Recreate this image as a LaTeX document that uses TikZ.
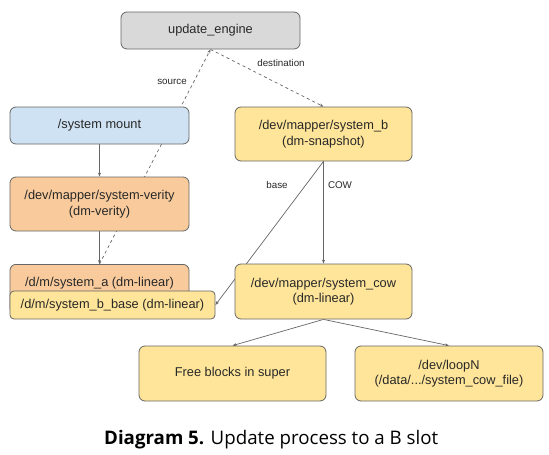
\documentclass[tikz,border=0pt]{standalone}
\usepackage{fontspec}
\setmainfont{Liberation Sans}
\newfontfamily\capfont{Open Sans}
\usetikzlibrary{arrows.meta, backgrounds}
\definecolor{edgegray}{RGB}{102, 102, 102}
\definecolor{txtgray}{RGB}{40, 40, 40}
\definecolor{engfill}{RGB}{217, 217, 217}
\definecolor{mntfill}{RGB}{207, 226, 243}
\definecolor{verfill}{RGB}{249, 203, 156}
\definecolor{snapfill}{RGB}{255, 229, 153}

\tikzset{
    devbox/.style={draw=edgegray, line width=0.8pt, rounded corners=6pt, inner sep=0pt,
        align=center, text=txtgray, font=\fontsize{12.8}{15.5}\selectfont},
    link/.style={draw=edgegray, line width=0.7pt, -{Stealth[length=4pt, width=3pt]}},
    linklbl/.style={font=\fontsize{9.8}{11}\selectfont, text=txtgray}
}

\begin{document}
\begin{tikzpicture}[x=1pt, y=-1pt]
        \useasboundingbox (0,0) rectangle (549,455);
        % boxes
        \node[devbox, fill=engfill, minimum width=179pt, minimum height=37pt] (engine) at (210.5,30.5) {update\_engine};
        \node[devbox, fill=mntfill, minimum width=179pt, minimum height=37pt] (mount) at (99.5,125.5) {/system mount};
        \node[devbox, fill=snapfill, minimum width=177pt, minimum height=54pt] (sysb) at (323.5,134) {/dev/mapper/system\_b\\(dm-snapshot)};
        \node[devbox, fill=verfill, minimum width=179pt, minimum height=54pt] (verity) at (99.5,204) {/dev/mapper/system-verity\\(dm-verity)};
        \node[devbox, fill=verfill, minimum width=179pt, anchor=north, text height=22pt, text depth=28pt] (sysa) at (99.5,264) {/d/m/system\_a (dm-linear)};
        \node[devbox, fill=snapfill, minimum width=205pt, minimum height=28pt, rounded corners=4pt] (bbase) at (112.5,305) {/d/m/system\_b\_base (dm-linear)};
        \node[devbox, fill=snapfill, minimum width=177pt, minimum height=55pt] (cow) at (323.5,291.5) {/dev/mapper/system\_cow\\(dm-linear)};
        \node[devbox, fill=snapfill, minimum width=187pt, minimum height=55pt] (free) at (232.5,373.5) {Free blocks in super};
        \node[devbox, fill=snapfill, minimum width=188pt, minimum height=55pt] (loop) at (449,373.5) {/dev/loopN\\(/data/.../system\_cow\_file)};

        % connectors
        \begin{pgfonlayer}{background}
            \draw[link, dashed] (sysa.north) -- (engine.south);
            \draw[link, dashed] (engine.south) -- (sysb.north);
            \draw[link] (mount) -- (verity);
            \draw[link] (verity) -- (sysa.north);
            \draw[link] (sysb.south) -- (cow.north);
            \draw[link] (sysb.south) -- (bbase.east);
            \draw[link] (cow.south) -- (free.north);
            \draw[link] (cow.south) -- (loop.north);
        \end{pgfonlayer}
        \node[linklbl] (srclbl) at (172,82) {source};
        \node[linklbl] (dstlbl) at (281,63) {destination};
        \node[linklbl] (baselbl) at (277,185) {base};
        \node[linklbl] (cowlbl) at (340,185) {COW};

        \node[anchor=base west, font=\capfont\fontsize{18.7}{22}\selectfont, inner sep=0pt] (caption) at (104,444) {\textbf{Diagram 5.} Update process to a B slot};
    \end{tikzpicture}
\end{document}
